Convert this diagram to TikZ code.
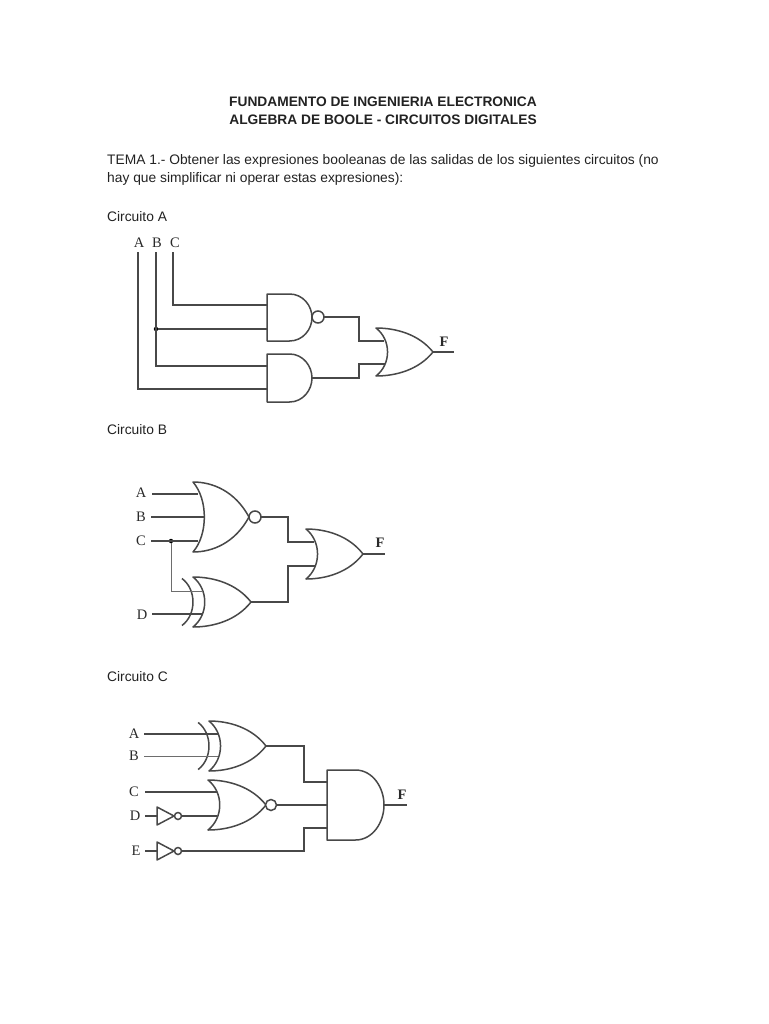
\documentclass[tikz,border=0pt]{standalone}
\usepackage{fontspec}
\setmainfont{Liberation Sans}
\newfontfamily\lblfont{Liberation Serif}
\definecolor{ink}{HTML}{484848}
\definecolor{lab}{HTML}{2A2A2A}
\definecolor{txt}{HTML}{222222}
\tikzset{
  gatebox/.style={inner sep=0pt,outer sep=0pt,anchor=north west},
  gateline/.style={draw=ink,line width=1.5pt,line join=round},
  wire/.style={draw=ink,line width=1.5pt},
  thinwire/.style={draw=ink!80,line width=1pt},
  bubble/.style={circle,draw=ink,line width=1.5pt,inner sep=0pt,outer sep=0pt,fill=white},
  jdot/.style={circle,fill=black,inner sep=0pt,minimum size=4.5pt},
  doc/.style={anchor=west,inner sep=0pt,text=txt,font=\fontsize{13.8}{16}\selectfont},
  head/.style={inner sep=0pt,text=txt,font=\fontsize{13.75}{16}\selectfont\bfseries},
  lbl/.style={inner sep=0pt,text=lab,font=\lblfont\fontsize{14.5}{16}\selectfont},
  lblb/.style={inner sep=0pt,text=lab,font=\lblfont\fontsize{14.5}{16}\selectfont\bfseries}
}
% name, left, top, width, height
\newcommand\andgate[5]{%
  \node[gatebox,minimum width=#4pt,minimum height=#5pt] (#1) at (#2,#3) {};
  \begin{scope}[shift={(#2,#3)},xscale=#4,yscale=#5]
    \draw[gateline] (0,0) -- (0.5,0) .. controls (0.8,0) and (1,0.25) .. (1,0.5) .. controls (1,0.75) and (0.8,1) .. (0.5,1) -- (0,1) -- cycle;
  \end{scope}}
\newcommand\orgate[5]{%
  \node[gatebox,minimum width=#4pt,minimum height=#5pt] (#1) at (#2,#3) {};
  \begin{scope}[shift={(#2,#3)},xscale=#4,yscale=#5]
    \draw[gateline] (0,0) .. controls (0.35,0.0) and (0.75,0.13) .. (1,0.5) .. controls (0.75,0.87) and (0.35,1) .. (0,1) .. controls (0.27,0.75) and (0.27,0.25) .. (0,0) -- cycle;
  \end{scope}}
\newcommand\xorgate[5]{%
  \orgate{#1}{#2}{#3}{#4}{#5}
  \begin{scope}[shift={(#2,#3)},xscale=#4,yscale=#5]
    \draw[gateline] (-0.19,0.03) .. controls (0.063,0.25) and (0.063,0.75) .. (-0.19,0.97);
  \end{scope}}
% name, left, top
\newcommand\invgate[3]{%
  \node[gatebox,minimum width=17pt,minimum height=18pt] (#1) at (#2,#3) {};
  \begin{scope}[shift={(#2,#3)}]
    \draw[gateline] (0,0) -- (17,9) -- (0,18) -- cycle;
    \node[bubble,minimum size=7pt] (#1b) at (21,9) {};
  \end{scope}}
\begin{document}
\begin{tikzpicture}[x=1pt,y=-1pt]
\useasboundingbox (0,0) rectangle (768,1024);
\fill[white] (0,0) rectangle (768,1024);

% ---------- text ----------
\node[head] (t1) at (383,101.5) {FUNDAMENTO DE INGENIERIA ELECTRONICA};
\node[head] (t2) at (383,119.5) {ALGEBRA DE BOOLE - CIRCUITOS DIGITALES};
\node[doc] (p1) at (107,160.5) {TEMA 1.- Obtener las expresiones booleanas de las salidas de los siguientes circuitos (no};
\node[doc] (p2) at (107,178.5) {hay que simplificar ni operar estas expresiones):};
\node[doc] (ca) at (107,217) {Circuito A};
\node[doc] (cb) at (107,430) {Circuito B};
\node[doc] (cc) at (107,676.5) {Circuito C};

% ---------- circuit A ----------
\node[lbl] (aA) at (139,243) {A};
\node[lbl] (aB) at (157,243) {B};
\node[lbl] (aC) at (175,243) {C};
\node[lblb] (aF) at (444,342) {F};
\andgate{an}{267}{294}{45}{47}
\node[bubble,minimum size=12pt] (anb) at (318,317) {};
\andgate{aa}{267}{354}{45}{48}
\orgate{ao}{376}{328}{57}{48}
\coordinate (aAs) at (138,252);
\coordinate (aBs) at (156,252);
\coordinate (aCs) at (173,252);
\coordinate (an1) at (267,305);
\coordinate (an2) at (267,329);
\coordinate (aa1) at (267,366);
\coordinate (aa2) at (267,389);
\coordinate (ao1) at (384,341);
\coordinate (ao2) at (385,364);
\coordinate (amid) at (359,350);
\coordinate (aFe) at (454,352);
\node[jdot] (aj) at (156,329) {};
\draw[wire] (aCs) |- (an1);
\draw[wire] (aBs) |- (aa1);
\draw[wire] (aj) -- (an2);
\draw[wire] (aAs) |- (aa2);
\draw[wire] (anb.east) -| (amid |- ao1) -- (ao1);
\draw[wire] (aa.east) -| (amid |- ao2) -- (ao2);
\draw[wire] (ao.east) -- (ao.east -| aFe);

% ---------- circuit B ----------
\node[lbl] (bA) at (141,493) {A};
\node[lbl] (bB) at (141,517) {B};
\node[lbl] (bC) at (141,541) {C};
\node[lbl] (bD) at (142,614.5) {D};
\node[lblb] (bF) at (380,543) {F};
\orgate{bn}{193}{482}{56}{70}
\node[bubble,minimum size=12pt] (bnb) at (255,517) {};
\xorgate{bx}{193}{577}{58}{50}
\orgate{bo}{306}{529}{57}{50}
\coordinate (bAs) at (152,494);
\coordinate (bBs) at (151,517);
\coordinate (bCs) at (151,541);
\coordinate (bDs) at (152,614);
\coordinate (bn1) at (198,494);
\coordinate (bn2) at (204,517);
\coordinate (bn3) at (198,541);
\coordinate (bx1) at (203,591);
\coordinate (bx2) at (203,614);
\coordinate (bo1) at (314,542);
\coordinate (bo2) at (315,566);
\coordinate (bmid) at (288,550);
\coordinate (bFe) at (385,554);
\node[jdot] (bj) at (171,541) {};
\draw[wire] (bAs) -- (bn1);
\draw[wire] (bBs) -- (bn2);
\draw[wire] (bCs) -- (bn3);
\draw[thinwire] (bj) |- (bx1);
\draw[wire] (bDs) -- (bx2);
\draw[wire] (bnb.east) -| (bmid |- bo1) -- (bo1);
\draw[wire] (bx.east) -| (bmid |- bo2) -- (bo2);
\draw[wire] (bo.east) -- (bFe);

% ---------- circuit C ----------
\node[lbl] (cA) at (134,734) {A};
\node[lbl] (cB) at (134,756) {B};
\node[lbl] (cC) at (134,792) {C};
\node[lbl] (cD) at (135,816) {D};
\node[lbl] (cE) at (136,851) {E};
\node[lblb] (cF) at (402,795) {F};
\xorgate{cx}{209}{721}{57}{50}
\orgate{cn}{208}{780}{58}{50}
\node[bubble,minimum size=11pt] (cnb) at (271,805) {};
\andgate{ca2}{327}{770}{57}{70}
\invgate{ci1}{157}{807}
\invgate{ci2}{157}{842}
\coordinate (cAs) at (144,734);
\coordinate (cBs) at (144,756);
\coordinate (cCs) at (145,792);
\coordinate (cDs) at (145,816);
\coordinate (cEs) at (145,851);
\coordinate (cx1) at (218,734);
\coordinate (cx2) at (218,756);
\coordinate (cn1) at (217,792);
\coordinate (cn2) at (217,816);
\coordinate (cg1) at (327,782);
\coordinate (cg3) at (327,828);
\coordinate (cmid) at (304,800);
\coordinate (cFe) at (407,805);
\draw[wire] (cAs) -- (cx1);
\draw[thinwire] (cBs) -- (cx2);
\draw[wire] (cCs) -- (cn1);
\draw[wire] (cDs) -- (ci1.west |- cDs);
\draw[wire] (cEs) -- (ci2.west |- cEs);
\draw[wire] (ci1b.east) -- (cn2);
\draw[wire] (cx.east) -| (cmid |- cg1) -- (cg1);
\draw[wire] (cnb.east) -- (cnb.east -| ca2.west);
\draw[wire] (ci2b.east) -| (cmid |- cg3) -- (cg3);
\draw[wire] (ca2.east) -- (cFe);
\end{tikzpicture}
\end{document}
